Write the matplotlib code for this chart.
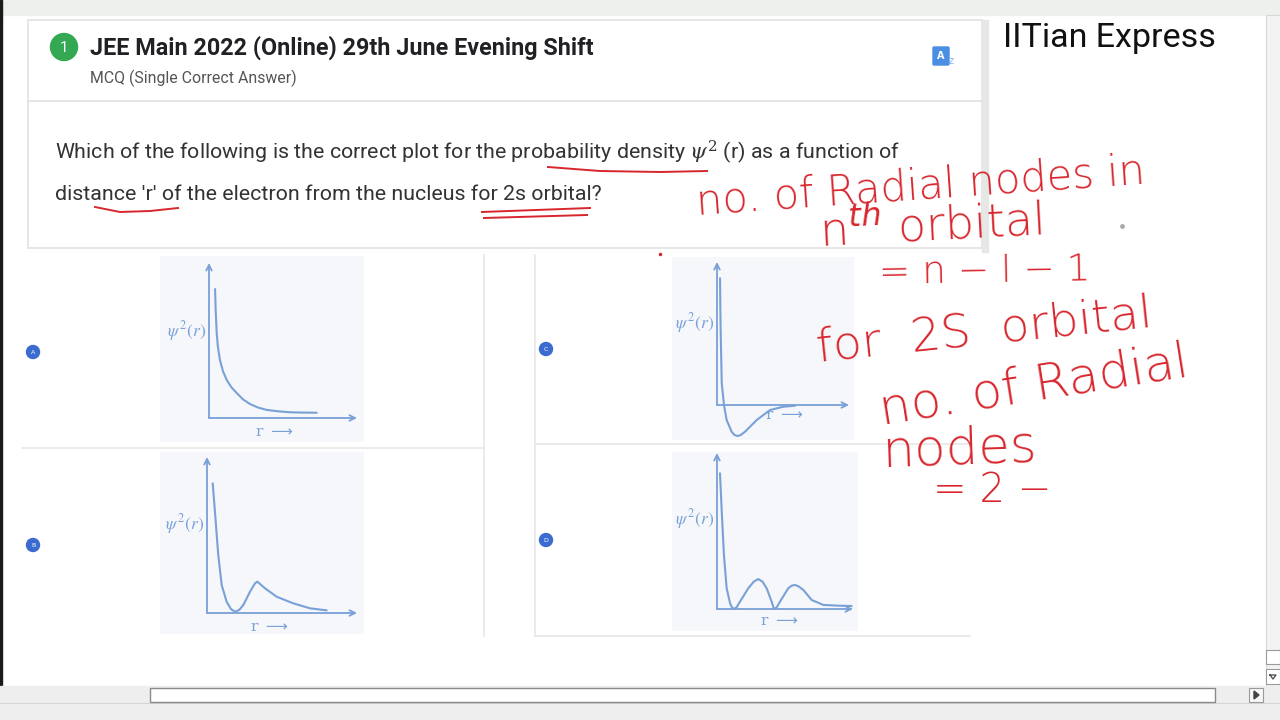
import numpy as np
import matplotlib.pyplot as plt
from matplotlib.patches import Rectangle, Circle, FancyBboxPatch

W, H = 1280, 720

# psi^2(r) curves of the four options (r and psi^2 in axis units, arrow tip = 10)
A_r = [0.41, 0.45, 0.52, 0.6, 0.74, 0.95, 1.2, 1.5, 1.87, 2.3, 2.77, 3.3, 3.9, 4.6, 5.47, 6.3, 7.28]
A_psi = [8.32, 7.0, 5.48, 4.6, 3.74, 3.0, 2.45, 2.0, 1.61, 1.2, 0.90, 0.68, 0.52, 0.44, 0.37, 0.35, 0.34]

B_r = [0.38, 0.53, 0.75, 0.98, 1.31, 1.6, 1.87, 2.15, 2.42, 2.87, 3.2, 3.35, 3.55, 3.87, 4.65, 5.75, 6.87, 7.98]
B_psi = [8.31, 6.49, 3.72, 1.79, 0.72, 0.25, 0.08, 0.2, 0.51, 1.37, 1.9, 2.01, 1.85, 1.58, 1.04, 0.62, 0.30, 0.17]

C_r = [0.23, 0.25, 0.28, 0.36, 0.53, 0.73, 1.11, 1.3, 1.54, 1.8, 2.12, 3.01, 4.02, 5.03, 5.91]
C_psi = [8.86, 7.0, 5.03, 1.52, 0.0, -1.05, -1.87, -2.08, -2.17, -2.1, -1.87, -1.05, -0.35, -0.12, -0.05]

D_r = [0.22, 0.35, 0.51, 0.71, 0.96, 1.1, 1.25, 1.45, 1.69, 2.30, 2.7, 3.03, 3.35, 3.65, 4.02, 4.15,
       4.26, 4.4, 4.63, 5.24, 5.5, 5.74, 6.0, 6.35, 6.96, 7.82, 9.04, 9.90]
D_psi = [8.70, 6.24, 3.46, 1.33, 0.37, 0.1, 0.0, 0.12, 0.47, 1.33, 1.75, 1.92, 1.75, 1.33, 0.47, 0.1,
         0.0, 0.12, 0.47, 1.33, 1.5, 1.54, 1.45, 1.22, 0.58, 0.26, 0.21, 0.19]

options = ['A', 'B', 'C', 'D']
curves = {'A': (A_r, A_psi), 'B': (B_r, B_psi), 'C': (C_r, C_psi), 'D': (D_r, D_psi)}

title = 'JEE Main 2022 (Online) 29th June Evening Shift'
subtitle = 'MCQ (Single Correct Answer)'
question1 = r'Which of the following is the correct plot for the probability density $\psi^2$ (r) as a function of'
question2 = "distance 'r' of the electron from the nucleus for 2s orbital?"
brand = 'IITian Express'
notes = ['no. of Radial nodes in', 'n$^{th}$ orbital', '= n − l − 1', 'for  2S  orbital',
         'no. of Radial', 'nodes', '= 2 −']

# layout in pixels: panel box, axis origin, px per unit, option marker
panels = {
    'A': dict(box=(160, 256, 364, 442), org=(209, 418), sc=(14.8, 15.5), mark=(33, 352),
              lab=(206, 331), rlab=(255, 432)),
    'B': dict(box=(160, 452, 364, 634), org=(207, 613), sc=(15.0, 15.6), mark=(33, 545),
              lab=(204, 524), rlab=(250, 627)),
    'C': dict(box=(672, 257, 854, 440), org=(717, 405), sc=(13.2, 14.3), mark=(546, 349),
              lab=(714, 323), rlab=(765, 415)),
    'D': dict(box=(672, 452, 858, 631), org=(717, 609), sc=(13.6, 15.6), mark=(546, 540),
              lab=(714, 519), rlab=(760, 621)),
}
# handwritten lines: centre, size, rotation
note_pos = [(921, 186, 30, 4), (930, 226, 33, 3), (985, 272, 27, 1), (984, 331, 34, 6),
            (1034, 386, 36, 9), (959, 450, 37, 2), (992, 490, 29, 0)]

blue = '#7aa0d8'
red = '#d8262d'

fig = plt.figure(figsize=(12.8, 7.2), dpi=100)
bg = fig.add_axes([0, 0, 1, 1])
bg.set_xlim(0, W)
bg.set_ylim(H, 0)
bg.axis('off')

# window chrome
bg.add_patch(Rectangle((0, 0), W, 15, color='#edf0ed', zorder=0))
bg.add_patch(Rectangle((0, 0), 2, 686, color='#1a1a1a', zorder=1))
bg.add_patch(Rectangle((1266, 15), 14, 671, color='#f3f3f3', ec='#d8d8d8', lw=0.8, zorder=1))
bg.add_patch(Rectangle((1266, 650), 14, 14, fc='white', ec='#9a9a9a', lw=0.8, zorder=2))
bg.add_patch(Rectangle((1266, 669), 14, 15, fc='white', ec='#9a9a9a', lw=0.8, zorder=2))
bg.plot([1270, 1276, 1273, 1270], [675, 675, 679, 675], color='#555', lw=1, zorder=3)
bg.add_patch(Rectangle((0, 686), W, 34, color='#eeeeee', zorder=1))
bg.plot([0, W], [703, 703], color='#d5d5d5', lw=0.8, zorder=2)
bg.add_patch(Rectangle((150, 688), 1065, 14, fc='white', ec='#8a8a8a', lw=1, zorder=2))
bg.add_patch(Rectangle((1249, 688), 14, 14, fc='#f7f7f7', ec='#9a9a9a', lw=0.8, zorder=2))
bg.fill([1254, 1254, 1259], [691, 699, 695], color='#444', zorder=3)

# question card
bg.add_patch(Rectangle((28, 20), 954, 228, fc='white', ec='#e2e2e2', lw=1.2, zorder=1))
bg.add_patch(Rectangle((982, 20), 6, 232, color='#e6e8e6', zorder=1))
bg.plot([28, 982], [101, 101], color='#e2e2e2', lw=1.2, zorder=2)
bg.add_patch(Circle((64, 47), 13.5, color='#34a853', zorder=3))
bg.text(64, 48, '1', color='white', fontsize=11, ha='center', va='center', family='Roboto', zorder=4)
bg.text(90, 48, title, fontsize=16.8, fontweight='bold', family='Roboto', color='#202124',
        va='center', ha='left', zorder=3)
bg.text(90, 78, subtitle, fontsize=11.4, family='Roboto', color='#555555', va='center', zorder=3)
bg.add_patch(FancyBboxPatch((934, 48), 14, 16, boxstyle='round,pad=1', color='#4a8fe3', zorder=3))
bg.text(941, 56, 'A', color='white', fontsize=7, fontweight='bold', ha='center', va='center', zorder=4)
bg.text(951, 61, 'z', color='#8ab4f0', fontsize=7, ha='center', va='center', zorder=4)
bg.text(55, 152, question1, fontsize=15.4, family='Roboto', color='#333333', va='center',
        math_fontfamily='dejavuserif', zorder=3)
bg.text(55, 194, question2, fontsize=15.4, family='Roboto', color='#333333', va='center', zorder=3)
bg.text(1003, 38, brand, fontsize=24.5, family='Roboto', color='#111111', va='center', zorder=3)

# option grid lines
grid_c = '#e8e8e8'
bg.plot([22, 484], [448, 448], color=grid_c, lw=1.2)
bg.plot([484, 484], [255, 636], color=grid_c, lw=1.2)
bg.plot([535, 535], [255, 636], color=grid_c, lw=1.2)
bg.plot([535, 970], [444, 444], color=grid_c, lw=1.2)
bg.plot([535, 970], [636, 636], color=grid_c, lw=1.2)

for opt in options:
    p = panels[opt]
    mx, my = p['mark']
    bg.add_patch(Circle((mx, my), 6.5, color='#3c6bd0', zorder=3))
    bg.text(mx, my + 0.5, opt, color='white', fontsize=4.5, ha='center', va='center', zorder=4)

    x0, y0, x1, y1 = p['box']
    ox, oy = p['org']
    sx, sy = p['sc']
    ax = fig.add_axes([x0 / W, 1 - y1 / H, (x1 - x0) / W, (y1 - y0) / H])
    ax.set_xlim((x0 - ox) / sx, (x1 - ox) / sx)
    ax.set_ylim((oy - y1) / sy, (oy - y0) / sy)
    ax.set_facecolor('#f5f7fa')
    for s in ax.spines.values():
        s.set_visible(False)
    ax.set_xticks([])
    ax.set_yticks([])
    arrow = dict(arrowstyle='->', color=blue, lw=1.3, shrinkA=0, shrinkB=0)
    ax.annotate('', xy=(10, 0), xytext=(0, 0), arrowprops=arrow)
    ax.annotate('', xy=(0, 10), xytext=(0, 0), arrowprops=arrow)
    r, psi = curves[opt]
    ax.plot(r, psi, color=blue, lw=1.5, solid_capstyle='round')

# overlay for labels and handwriting, above the option panels
top = fig.add_axes([0, 0, 1, 1])
top.set_xlim(0, W)
top.set_ylim(H, 0)
top.axis('off')
top.patch.set_alpha(0)

for opt in options:
    p = panels[opt]
    lx, ly = p['lab']
    top.text(lx, ly, r'$\psi^{\,2}(r)$', color=blue, fontsize=12.5, ha='right', va='center',
             math_fontfamily='stix')
    rx, ry = p['rlab']
    top.text(rx, ry, r'r $\longrightarrow$', color=blue, fontsize=11, ha='left', va='center',
             family='DejaVu Serif')

hand = dict(color=red, family='DejaVu Sans', fontweight='light', ha='center', va='center',
            rotation_mode='anchor')
for txt, (cx, cy, fs, rot) in zip(notes, note_pos):
    top.text(cx, cy, txt, fontsize=fs, rotation=rot, **hand)

# red underlines
top.plot([548, 600, 660, 707], [167, 171, 172, 171], color=red, lw=1.4)
top.plot([95, 120, 150, 178], [207, 212, 211, 208], color=red, lw=1.4)
top.plot([482, 590], [212, 208], color=red, lw=1.4)
top.plot([484, 587], [218, 215], color=red, lw=1.4)
top.plot([660], [254], marker='o', ms=1.5, color=red)
top.plot([1122], [226], marker='o', ms=2.5, color='#aaaaaa')

fig.savefig('out.png', dpi=100)
